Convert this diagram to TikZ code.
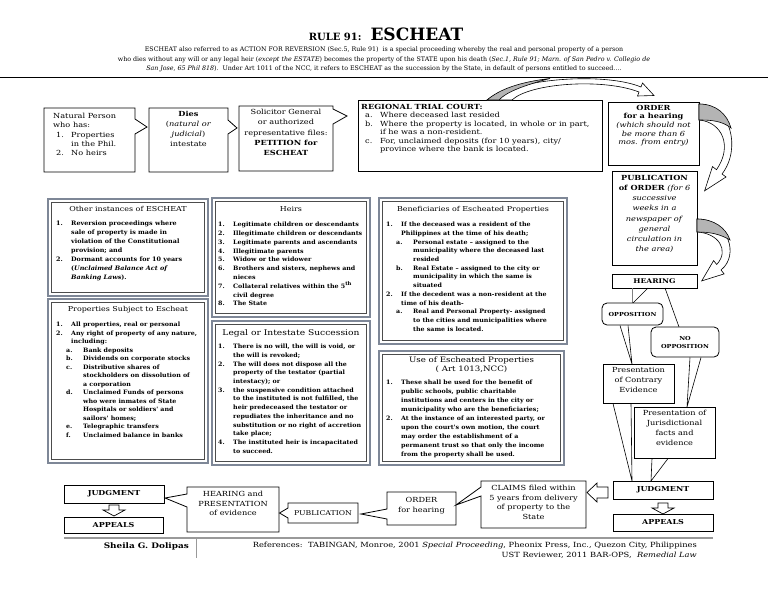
\documentclass[tikz,border=0pt]{standalone}
\usepackage{fontspec}
\setmainfont[FakeStretch=1.17]{DejaVu Serif}
\newfontfamily\plainf{DejaVu Serif}
\newfontfamily\secf[FakeStretch=1.05]{DejaVu Serif}
\usetikzlibrary{calc}
\definecolor{frame}{HTML}{7E8797}
\definecolor{arrgray}{HTML}{B4B4B4}
\newcommand\fsz[2]{\fontsize{#1}{#2}\selectfont}
\newcommand\numb[1]{\makebox[15pt][l]{#1}}
\newcommand\indt{\hspace*{15pt}}
\newcommand\subn[1]{\hspace*{10pt}\makebox[17pt][l]{#1}}
\newcommand\subindt{\hspace*{27pt}}
\begin{document}
\begin{tikzpicture}[x=1pt,y=-1pt,line join=miter,
  pbox/.style={draw=black,line width=0.8pt,fill=white},
  txt/.style={inner sep=0pt,align=left,anchor=north west},
  ctxt/.style={inner sep=0pt,align=center,anchor=north},
  fouter/.style={draw=frame,line width=2.8pt},
  finner/.style={draw=black!70,line width=0.6pt},
  barrow/.style={draw=black,line width=0.7pt,fill=white},
  carrow/.style={draw=black,line width=0.6pt,fill=white},
  cgray/.style={draw=black,line width=0.6pt,fill=arrgray},
  tail/.style={draw=black,line width=0.6pt},
  sect/.style={inner sep=0pt,align=left,anchor=north west,font=\secf\bfseries\fsz{6.0}{8.7}},
  secth/.style={inner sep=0pt,align=center,anchor=north,font=\fsz{6.8}{8.5}}]
\useasboundingbox (0,0) rectangle (768,594);
\fill[white] (0,0) rectangle (768,594);

% ---------------- title ----------------
\node[anchor=base,inner sep=0pt] (title) at (386,41) {\plainf{\fsz{10}{12}\bfseries RULE 91:}\hspace{9pt}{\fsz{17}{18}\bfseries ESCHEAT}};
\node[ctxt,font=\plainf\fsz{6.3}{9.3}] (intro) at (384,47) {%
ESCHEAT also referred to as ACTION FOR REVERSION (Sec.5, Rule 91)\ \ is a special proceeding whereby the real and personal property of a person\\
who dies without any will or any legal heir (\textit{except the ESTATE}) becomes the property of the STATE upon his death (\textit{Sec.1, Rule 91; Marn. of San Pedro v. Collegio de}\\
\textit{San Jose, 65 Phil 818}).\ \ Under Art 1011 of the NCC, it refers to ESCHEAT as the succession by the State, in default of persons entitled to succeed….};
\draw[line width=1pt] (0,77.5) -- (768,77.5);

% ---------------- top row ----------------
\draw[pbox] (44,108) -- (135,108) -- (135,119) -- (147,127) -- (135,134) -- (135,172) -- (44,172) -- cycle;
\node[txt,font=\fsz{7}{9.3}] (np) at (53,113) {Natural Person\\who has:\\\hspace*{3pt}\makebox[15pt][l]{1.}Properties\\\hspace*{18pt}in the Phil.\\\hspace*{3pt}\makebox[15pt][l]{2.}No heirs};

\draw[pbox] (149,108) -- (228,108) -- (228,120) -- (237,128) -- (228,134) -- (228,172) -- (149,172) -- cycle;
\node[ctxt,font=\fsz{7}{10}] (dies) at (188.5,111) {\textbf{Dies}\\(\textit{natural or}\\\textit{judicial})\\intestate};

\draw[pbox] (239,106) -- (333,106) -- (333,109) -- (347,116) -- (333,124) -- (333,171) -- (239,171) -- cycle;
\node[ctxt,font=\fsz{7}{10.3}] (sol) at (286,109) {Solicitor General\\or authorized\\representative files:\\\textbf{PETITION for}\\\textbf{ESCHEAT}};

\draw[pbox] (358,100) rectangle (602,171);
\node[txt,font=\fsz{7}{8.5}] (rtc) at (361,104) {\textbf{REGIONAL TRIAL COURT:}\\
\hspace*{4pt}\makebox[15pt][l]{a.}Where deceased last resided\\
\hspace*{4pt}\makebox[15pt][l]{b.}Where the property is located, in whole or in part,\\
\hspace*{19pt}if he was a non-resident.\\
\hspace*{4pt}\makebox[15pt][l]{c.}For, unclaimed deposits (for 10 years), city/\\
\hspace*{19pt}province where the bank is located.};

% curved arrow RTC -> ORDER
\filldraw[carrow] (487,100) .. controls (515,78) and (605,72) .. (641,87) -- (642.5,83) -- (654,95.5) -- (637.5,96) -- (639,92) .. controls (603,78) and (530,83) .. (512,100) -- cycle;
\filldraw[cgray] (487,100) .. controls (500,89) and (520,82) .. (550,78.5) .. controls (525,85) and (506,92) .. (499,100) -- cycle;

\draw[pbox] (608,102) rectangle (699,165);
\node[ctxt,font=\fsz{7}{8.6}] (order) at (653.5,105) {\textbf{ORDER}\\\textbf{for a hearing}\\\textit{(which should not}\\\textit{be more than 6}\\\textit{mos. from entry)}};

% curved arrow ORDER -> PUBLICATION
\filldraw[carrow] (699,104) .. controls (730,104) and (742,148) .. (722,174) -- (726,177) -- (704.6,190.8) -- (712.5,166.6) -- (716.5,169.7) .. controls (733,146) and (722,122) .. (699,120) -- cycle;
\filldraw[cgray] (699,104) .. controls (716,104) and (727,114) .. (731,128) .. controls (722,121) and (712,120) .. (699,120) -- cycle;

\draw[pbox] (612,171) rectangle (697,265);
\node[ctxt,font=\fsz{7}{10.2}] (pub) at (654.5,175) {\textbf{PUBLICATION}\\\textbf{of ORDER} \textit{(for 6}\\\textit{successive}\\\textit{weeks in a}\\\textit{newspaper of}\\\textit{general}\\\textit{circulation in}\\\textit{the area)}};

% curved arrow PUBLICATION -> HEARING
\filldraw[carrow] (697,219) .. controls (728,219) and (740,255) .. (721,270) -- (724.1,273.9) -- (701.7,280.9) -- (713.6,260.6) -- (716.7,264.5) .. controls (730,250) and (718,233) .. (697,232) -- cycle;
\filldraw[cgray] (697,219) .. controls (714,219) and (726,228) .. (730,240) .. controls (720,234) and (710,232) .. (697,232) -- cycle;

\draw[pbox] (612,274) rectangle (697,288);
\node[anchor=center,inner sep=0pt,font=\fsz{6.5}{8}\bfseries] (hear) at (654.5,281.5) {HEARING};

% tails from HEARING
\draw[tail,draw=gray] (632,288) -- (632,303);
\draw[tail] (648,288) -- (633,303);
\draw[tail] (665,288) -- (679,327);

\draw[pbox,rounded corners=5pt] (602,303) rectangle (663,325);
\node[anchor=center,inner sep=0pt,font=\fsz{5.5}{7}\bfseries] (opp) at (632.5,314) {OPPOSITION};
\draw[pbox,rounded corners=5pt] (651,327) rectangle (719,357);
\node[anchor=center,inner sep=0pt,align=center,font=\fsz{5.5}{8}\bfseries] (noopp) at (685,342) {NO\\OPPOSITION};

% tails
\draw[tail] (620,325.5) -- (632,364) -- (628,325.5);
\draw[tail] (690,357.5) -- (687,407) -- (701,357.5);

\draw[pbox] (603,364) rectangle (674,403);
\node[ctxt,font=\fsz{7}{10}] (contr) at (638.5,367) {Presentation\\of Contrary\\Evidence};
\draw[pbox] (634,407) rectangle (715,458);
\node[ctxt,font=\fsz{7}{10}] (juris) at (674.5,410) {Presentation of\\Jurisdictional\\facts and\\evidence};

\draw[tail] (613,403.5) -- (632,481) -- (631,403.5);
\draw[tail] (652,458.5) -- (651,481) -- (668,458.5);

% ---------------- section boxes ----------------
\draw[fouter] (48,199) rectangle (208,296);
\draw[finner] (51.5,202.5) rectangle (204.5,292.5);
\node[secth] (oih) at (128,206) {Other instances of ESCHEAT};
\node[sect,font=\secf\bfseries\fsz{6.1}{9}] (oib) at (56,221) {\numb{1.}Reversion proceedings where\\
\indt sale of property is made in\\
\indt violation of the Constitutional\\
\indt provision; and\\
\numb{2.}Dormant accounts for 10 years\\
\indt(\textit{Unclaimed Balance Act of}\\
\indt\textit{Banking Laws}).};

\draw[fouter] (48,299) rectangle (208,463);
\draw[finner] (51.5,302.5) rectangle (204.5,459.5);
\node[secth] (psh) at (128,306) {Properties Subject to Escheat};
\node[sect,font=\secf\bfseries\fsz{6.0}{8.5}] (psb) at (56,322) {\numb{1.}All properties, real or personal\\
\numb{2.}Any right of property of any nature,\\
\indt including:\\
\subn{a.}Bank deposits\\
\subn{b.}Dividends on corporate stocks\\
\subn{c.}Distributive shares of\\
\subindt stockholders on dissolution of\\
\subindt a corporation\\
\subn{d.}Unclaimed Funds of persons\\
\subindt who were inmates of State\\
\subindt Hospitals or soldiers' and\\
\subindt sailors' homes;\\
\subn{e.}Telegraphic transfers\\
\subn{f.}Unclaimed balance in banks};

\draw[fouter] (212,198) rectangle (370,317);
\draw[finner] (215.5,201.5) rectangle (366.5,313.5);
\node[secth] (hh) at (291,206) {Heirs};
\node[sect,font=\secf\bfseries\fsz{6.0}{8.8}] (hb) at (218,222) {\numb{1.}Legitimate children or descendants\\
\numb{2.}Illegitimate children or descendants\\
\numb{3.}Legitimate parents and ascendants\\
\numb{4.}Illegitimate parents\\
\numb{5.}Widow or the widower\\
\numb{6.}Brothers and sisters, nephews and\\
\indt nieces\\
\numb{7.}Collateral relatives within the 5\textsuperscript{th}\\
\indt civil degree\\
\numb{8.}The State};

\draw[fouter] (212,321) rectangle (370,465);
\draw[finner] (215.5,324.5) rectangle (366.5,461.5);
\node[secth,font=\fsz{7.8}{9}] (lh) at (291,329) {Legal or Intestate Succession};
\node[sect] (lb) at (218,344) {\numb{1.}There is no will, the will is void, or\\
\indt the will is revoked;\\
\numb{2.}The will does not dispose all the\\
\indt property of the testator (partial\\
\indt intestacy); or\\
\numb{3.}the suspensive condition attached\\
\indt to the instituted is not fulfilled, the\\
\indt heir predeceased the testator or\\
\indt repudiates the inheritance and no\\
\indt substitution or no right of accretion\\
\indt take place;\\
\numb{4.}The instituted heir is incapacitated\\
\indt to succeed.};

\draw[fouter] (379,198) rectangle (567,344);
\draw[finner] (382.5,201.5) rectangle (563.5,340.5);
\node[secth] (bh) at (473,206) {Beneficiaries of Escheated Properties};
\node[sect] (bb) at (386,222) {\numb{1.}If the deceased was a resident of the\\
\indt Philippines at the time of his death;\\
\subn{a.}Personal estate – assigned to the\\
\subindt municipality where the deceased last\\
\subindt resided\\
\subn{b.}Real Estate – assigned to the city or\\
\subindt municipality in which the same is\\
\subindt situated\\
\numb{2.}If the decedent was a non-resident at the\\
\indt time of his death-\\
\subn{a.}Real and Personal Property- assigned\\
\subindt to the cities and municipalities where\\
\subindt the same is located.};

\draw[fouter] (379,351) rectangle (564,465);
\draw[finner] (382.5,354.5) rectangle (560.5,461.5);
\node[secth,font=\fsz{7.4}{9}] (uh) at (471.5,357) {Use of Escheated Properties\\( Art 1013,NCC)};
\node[sect,font=\secf\bfseries\fsz{6.0}{9}] (ub) at (386,380) {\numb{1.}These shall be used for the benefit of\\
\indt public schools, public charitable\\
\indt institutions and centers in the city or\\
\indt municipality who are the beneficiaries;\\
\numb{2.}At the instance of an interested party, or\\
\indt upon the court's own motion, the court\\
\indt may order the establishment of a\\
\indt permanent trust so that only the income\\
\indt from the property shall be used.};

% ---------------- bottom row ----------------
\draw[pbox] (64,485) rectangle (164,503);
\node[anchor=center,inner sep=0pt,font=\fsz{6.8}{8}\bfseries] (judgl) at (114,494) {JUDGMENT};
\draw[barrow] (109,505) -- (119,505) -- (119,510) -- (125,510) -- (114,516) -- (103,510) -- (109,510) -- cycle;
\draw[pbox] (64,517) rectangle (163,533);
\node[anchor=center,inner sep=0pt,font=\fsz{6.8}{8}\bfseries] (appl) at (113.5,525) {APPEALS};

\draw[pbox] (187,487) -- (279,487) -- (279,532) -- (187,532) -- (187,507) -- (165,498) -- (187,494) -- cycle;
\node[ctxt,font=\fsz{7}{9.5}] (hp) at (233,491) {HEARING and\\PRESENTATION\\of evidence};

\draw[pbox] (288,503) -- (358,503) -- (358,523) -- (288,523) -- (288,518) -- (279.5,513) -- (288,508) -- cycle;
\node[anchor=center,inner sep=0pt,font=\fsz{6.6}{8}] (pubb) at (323,513) {PUBLICATION};

\draw[pbox] (387,492) -- (456,492) -- (456,525) -- (387,525) -- (387,519) -- (361,514) -- (387,509) -- cycle;
\node[ctxt,font=\fsz{7}{10}] (ordb) at (421.5,497) {ORDER\\for hearing};

\draw[pbox] (481,481) -- (586,481) -- (586,528) -- (481,528) -- (481,496) -- (456,505) -- (481,487) -- cycle;
\node[ctxt,font=\fsz{7}{9.6}] (claims) at (533.5,485) {CLAIMS filed within\\5 years from delivery\\of property to the\\State};

\draw[barrow] (608,487) -- (597,487) -- (597,483) -- (587,492.5) -- (597,502) -- (597,498) -- (608,498) -- cycle;

\draw[pbox] (613,481) rectangle (713,499);
\node[anchor=center,inner sep=0pt,font=\fsz{6.8}{8}\bfseries] (judgr) at (663,490) {JUDGMENT};
\draw[barrow] (658,503) -- (668,503) -- (668,508) -- (674,508) -- (663,514) -- (652,508) -- (658,508) -- cycle;
\draw[pbox] (613,514) rectangle (713,531);
\node[anchor=center,inner sep=0pt,font=\fsz{6.8}{8}\bfseries] (appr) at (663,522.5) {APPEALS};

% ---------------- footer ----------------
\draw[draw=gray!80,line width=1.6pt] (64,538) -- (713,538);
\draw[draw=gray!80,line width=1pt] (196,538) -- (196,558);
\node[anchor=base east,inner sep=0pt,font=\fsz{7.6}{9}\bfseries] (author) at (189,548) {Sheila G.\ Dolipas};
\node[anchor=base east,inner sep=0pt,font=\fsz{7.1}{8}] (ref1) at (697,547) {References:\ \ TABINGAN, Monroe, 2001 \textit{Special Proceeding}, Pheonix Press, Inc.,\ Quezon City, Philippines};
\node[anchor=base east,inner sep=0pt,font=\fsz{7.1}{8}] (ref2) at (697,557) {UST Reviewer, 2011 BAR-OPS,\ \ \textit{Remedial Law}};
\end{tikzpicture}
\end{document}
